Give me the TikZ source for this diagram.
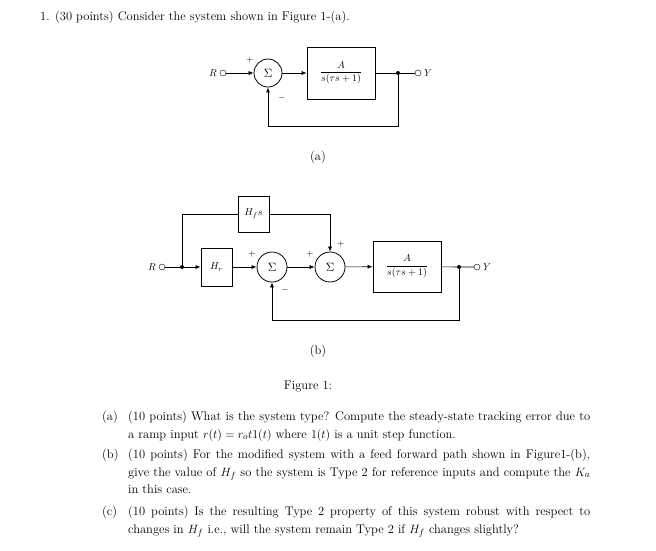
\documentclass[tikz,border=0pt]{standalone}
\usetikzlibrary{arrows.meta}
\begin{document}
\begin{tikzpicture}[x=1pt,y=-1pt,
  blk/.style={draw,thick,minimum width=0pt,inner sep=0pt},
  sumn/.style={draw,thick,circle,minimum size=28pt,inner sep=0pt,font=\large},
  term/.style={draw,circle,minimum size=6pt,inner sep=0pt},
  dotn/.style={fill,circle,minimum size=4pt,inner sep=0pt},
  arr/.style={-{Latex[length=5pt,width=4pt]}},
  ln/.style={line width=0.6pt},
  txt/.style={font=\fontsize{12.5}{17.5}\selectfont,inner sep=0pt}]
\useasboundingbox (0,0) rectangle (656,550);
\node[txt,anchor=west] (title) at (40,17) {1. (30 points) Consider the system shown in Figure 1-(a).};
% (a)
\node[term] (ra) at (223,73) {};
\node[anchor=east,inner sep=1pt] (rla) at (218,73) {$R$};
\node[sumn] (sa) at (268,73) {$\Sigma$};
\node[draw,thick,minimum width=68pt,minimum height=52pt,inner sep=0pt] (ga) at (341,73) {$\displaystyle\frac{A}{s(\tau s+1)}$};
\node[dotn] (da) at (398,73) {};
\node[term] (ya) at (418,73) {};
\node[anchor=west,inner sep=1pt] (yla) at (423,73) {$Y$};
\coordinate (fa) at (398,126);
\node (pa) at (250,60) {\small $+$};
\node (ma) at (282,98) {\small $-$};
\draw[ln,arr] (ra) -- (sa);
\draw[ln,arr] (sa) -- (ga);
\draw[ln] (ga) -- (da) -- (ya);
\draw[ln,arr] (da) |- (fa) -| (sa.south);
\node[txt] (capa) at (318,157) {(a)};
% (b)
\node[term] (rb) at (162,267) {};
\node[anchor=east,inner sep=1pt] (rlb) at (157,267) {$R$};
\node[dotn] (db) at (182,267) {};
\node[draw,thick,minimum width=31pt,minimum height=38pt,inner sep=0pt] (hr) at (216.5,267) {$H_r$};
\node[draw,thick,minimum width=31pt,minimum height=36pt,inner sep=0pt] (hf) at (253.5,214) {$H_f s$};
\node[sumn,minimum size=30pt] (s1) at (272,267) {$\Sigma$};
\node[sumn,minimum size=30pt] (s2) at (330,267) {$\Sigma$};
\node[draw,thick,minimum width=68pt,minimum height=51pt,inner sep=0pt] (gb) at (407,266.5) {$\displaystyle\frac{A}{s(\tau s+1)}$};
\node[dotn] (d2) at (459,267) {};
\node[term] (yb) at (477,267) {};
\node[anchor=west,inner sep=1pt] (ylb) at (482,267) {$Y$};
\coordinate (fb) at (459,320);
\node (p1) at (252,254) {\small $+$};
\node (m1) at (285,290) {\small $-$};
\node (p2) at (310,254) {\small $+$};
\node (p3) at (341,244) {\small $+$};
\draw[ln] (rb) -- (db);
\draw[ln,arr] (db) -- (hr);
\draw[ln] (db) |- (hf);
\draw[ln,arr] (hf) -| (s2.north);
\draw[ln,arr] (hr) -- (s1);
\draw[ln,arr] (s1) -- (s2);
\draw[ln,arr] (s2) -- (gb);
\draw[ln] (gb) -- (d2) -- (yb);
\draw[ln,arr] (d2) |- (fb) -| (s1.south);
\node[txt] (capb) at (318,351) {(b)};
\node[txt] (fig) at (308,387) {Figure 1:};
% questions
\node[txt,anchor=north west] (la) at (102,411) {(a)};
\node[txt,anchor=north west,text width=462pt,align=justify] (qa) at (128,411) {(10 points) What is the system type? Compute the steady-state tracking error due to a ramp input $r(t)=r_o t1(t)$ where $1(t)$ is a unit step function.};
\node[txt,anchor=north west] (lb) at (102,449) {(b)};
\node[txt,anchor=north west,text width=462pt,align=justify] (qb) at (128,449) {(10 points) For the modified system with a feed forward path shown in Figure1-(b), give the value of $H_f$ so the system is Type 2 for reference inputs and compute the $K_a$ in this case.};
\node[txt,anchor=north west] (lc) at (102,506) {(c)};
\node[txt,anchor=north west,text width=462pt,align=justify] (qc) at (128,506) {(10 points) Is the resulting Type 2 property of this system robust with respect to changes in $H_f$ i.e., will the system remain Type 2 if $H_f$ changes slightly?};
\end{tikzpicture}
\end{document}
